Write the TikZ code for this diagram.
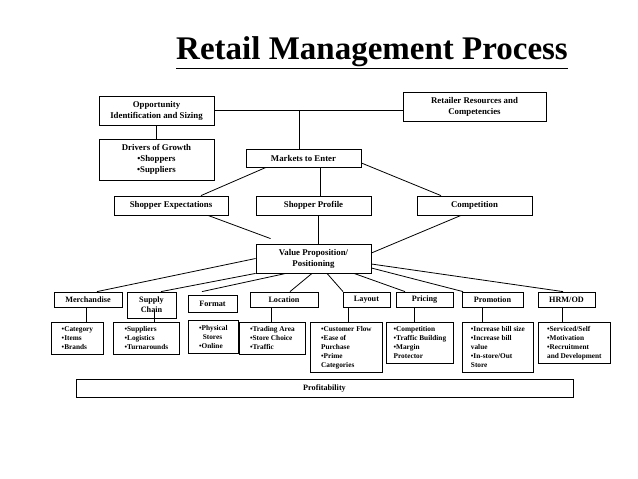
\documentclass[tikz,border=0pt]{standalone}
\usepackage{fontspec}
\setmainfont{Liberation Serif}
\usetikzlibrary{calc}
\begin{document}
\begin{tikzpicture}[x=1pt,y=-1pt,
  box/.style={draw,line width=0.8pt,inner sep=1pt,align=center,font=\fontsize{8.8}{11}\selectfont\bfseries},
  hdr/.style={draw,line width=0.8pt,inner sep=1pt,align=center,font=\fontsize{8.2}{10}\selectfont\bfseries},
  det/.style={draw,line width=0.8pt,inner sep=2pt,align=left,anchor=north west,font=\fontsize{7.3}{9}\selectfont\bfseries,text depth=0pt},
  ln/.style={line width=0.8pt}]
\useasboundingbox (0,0) rectangle (638,479);
\node[font=\fontsize{33}{38}\selectfont\bfseries] (title) at (372,53) {\underline{Retail Management Process}};
\node[box,minimum width=115,minimum height=29] (opp) at (156.5,110.5) {Opportunity\\Identification and Sizing};
\node[box,minimum width=143,minimum height=29] (ret) at (474.5,106.5) {Retailer Resources and\\Competencies};
\node[box,minimum width=115,minimum height=41] (drv) at (156.5,159.5) {Drivers of Growth\\•Shoppers\\•Suppliers};
\node[box,minimum width=115,minimum height=18] (mkt) at (303.5,158) {Markets to Enter};
\node[box,minimum width=114,minimum height=19] (sexp) at (171,205.5) {Shopper Expectations};
\node[box,minimum width=115,minimum height=19] (prof) at (313.5,205.5) {Shopper Profile};
\node[box,minimum width=115,minimum height=19] (comp) at (474.5,205.5) {Competition};
\node[box,minimum width=115,minimum height=29] (vp) at (313.5,258.5) {Value Proposition/\\Positioning};
% headers
\node[hdr,minimum width=68,minimum height=15] (mer) at (88,299.5) {Merchandise};
\node[hdr,minimum width=49,minimum height=26] (sc) at (151.5,305) {Supply\\Chain};
\node[hdr,minimum width=49,minimum height=17] (fmt) at (212.5,303.5) {Format};
\node[hdr,minimum width=68,minimum height=15] (loc) at (284,299.5) {Location};
\node[hdr,minimum width=47,minimum height=15] (lay) at (366.5,299.5) {Layout};
\node[hdr,minimum width=57,minimum height=15] (pri) at (424.5,299.5) {Pricing};
\node[hdr,minimum width=61,minimum height=15] (pro) at (492.5,299.5) {Promotion};
\node[hdr,minimum width=57,minimum height=15] (hrm) at (566.5,299.5) {HRM/OD};
% details
\node[det,minimum width=52,minimum height=32] (merd) at (51,322) {•Category\\•Items\\•Brands};
\node[det,minimum width=66,minimum height=32] (scd) at (113,322) {•Suppliers\\•Logistics\\•Turnarounds};
\node[det,minimum width=50,minimum height=33] (fmtd) at (188,320) {•Physical\\\ \ Stores\\•Online};
\node[det,minimum width=66,minimum height=32] (locd) at (239,322) {•Trading Area\\•Store Choice\\•Traffic};
\node[det,minimum width=72,minimum height=50] (layd) at (310,322) {•Customer Flow\\•Ease of\\Purchase\\•Prime\\Categories};
\node[det,minimum width=67,minimum height=41] (prid) at (386,322) {•Competition\\•Traffic Building\\•Margin\\Protector};
\node[det,minimum width=71,minimum height=50] (prod) at (462,322) {•Increase bill size\\•Increase bill\\value\\•In-store/Out\\Store};
\node[det,minimum width=72,minimum height=41] (hrmd) at (538,322) {•Serviced/Self\\•Motivation\\•Recruitment\\and Development};
\node[hdr,minimum width=497,minimum height=18] (pft) at (324.5,388) {Profitability};
% top connectors
\coordinate (jn) at ([shift={(-4.5,0)}]mkt.north |- opp.east);
\draw[ln] (opp.east) -- (jn) -- (ret.west |- opp.east);
\draw[ln] (jn) -- ([shift={(-4.5,0)}]mkt.north);
\draw[ln] (opp.south) -- (drv.north);
\draw[ln] ([shift={(-37.5,0)}]mkt.south) -- ([shift={(30,0)}]sexp.north);
\draw[ln] ([shift={(16.5,0)}]mkt.south) -- ([shift={(6.5,0)}]prof.north);
\draw[ln] ([shift={(0,5)}]mkt.east) -- ([shift={(-33.5,0)}]comp.north);
\draw[ln] ([shift={(37,0)}]sexp.south) -- ([shift={(15,-5)}]vp.north west);
\draw[ln] ([shift={(4.5,0)}]prof.south) -- ([shift={(4.5,0)}]vp.north);
\draw[ln] ([shift={(-13.5,0)}]comp.south) -- ([shift={(0,-5.5)}]vp.east);
% fan
\draw[ln] (vp.west) -- ([shift={(9,0)}]mer.north);
\draw[ln] (vp.south west) -- ([shift={(9.5,0)}]sc.north);
\draw[ln] ([shift={(-27.5,0)}]vp.south) -- ([shift={(-10.5,-3)}]fmt.north);
\draw[ln] ([shift={(-1.5,0)}]vp.south) -- ([shift={(6,0)}]loc.north);
\draw[ln] ([shift={(13.5,0)}]vp.south) -- ([shift={(-23.5,0)}]lay.north);
\draw[ln] ([shift={(40.5,0)}]vp.south) -- ([shift={(-19.5,0)}]pri.north);
\draw[ln] ([shift={(0,9.5)}]vp.east) -- ([shift={(-29.5,0)}]pro.north);
\draw[ln] ([shift={(0,5.5)}]vp.east) -- ([shift={(-3.5,0)}]hrm.north);
% header to details
\draw[ln] ([shift={(-2,0)}]mer.south) -- ([shift={(-2,0)}]mer.south |- merd.north);
\draw[ln] ([shift={(2.5,-8)}]sc.south) -- ([shift={(2.5,0)}]sc.south |- scd.north);
\draw[ln] ([shift={(-13,0)}]loc.south) -- ([shift={(-13,0)}]loc.south |- locd.north);
\draw[ln] ([shift={(-18.5,0)}]lay.south) -- ([shift={(-18.5,0)}]lay.south |- layd.north);
\draw[ln] ([shift={(-10.5,0)}]pri.south) -- ([shift={(-10.5,0)}]pri.south |- prid.north);
\draw[ln] ([shift={(-10.5,0)}]pro.south) -- ([shift={(-10.5,0)}]pro.south |- prod.north);
\draw[ln] ([shift={(-4.5,0)}]hrm.south) -- ([shift={(-4.5,0)}]hrm.south |- hrmd.north);
\end{tikzpicture}
\end{document}
